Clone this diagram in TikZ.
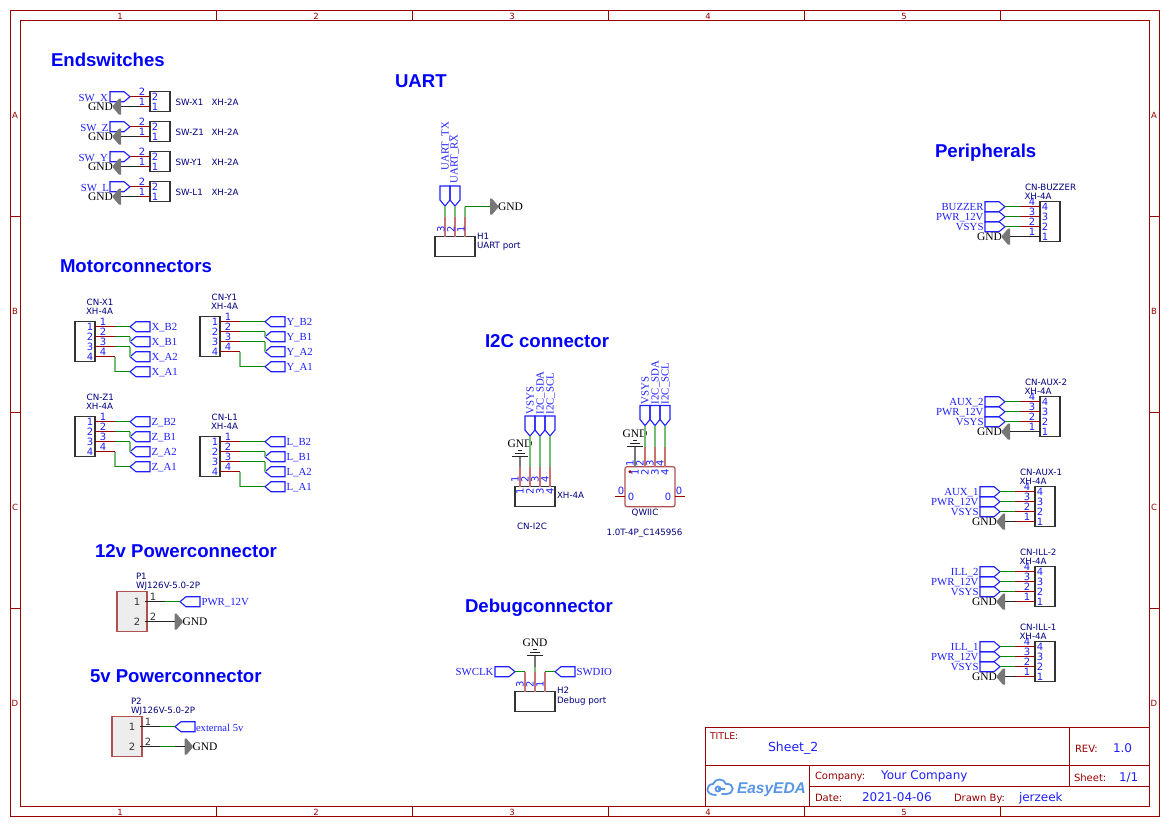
\documentclass[tikz,border=0pt]{standalone}
\usepackage{fontspec}
\newfontfamily\fdv{DejaVu Sans}
\newfontfamily\fls{Liberation Sans}
\newfontfamily\fsr{Liberation Serif}
\definecolor{frm}{HTML}{990000}
\definecolor{frp}{HTML}{B05050}
\definecolor{netb}{HTML}{2020FF}
\definecolor{cmpb}{HTML}{000080}
\definecolor{pinr}{HTML}{990000}
\definecolor{wgr}{HTML}{008800}
\definecolor{bdk}{HTML}{333333}
\definecolor{gnd}{HTML}{777777}
\definecolor{logo}{HTML}{5A96E8}
\newcount\lblc
\tikzset{
 lbl/.style={inner sep=0pt,outer sep=0pt,text height=8pt,text depth=1pt},
 net/.style={lbl,font=\fsr\fontsize{10.8}{12}\selectfont,text=netb},
 gtx/.style={lbl,font=\fsr\fontsize{11.5}{12}\selectfont,text=black},
 cmp/.style={lbl,font=\fdv\fontsize{8.7}{10}\selectfont,text=cmpb},
 pnm/.style={lbl,font=\fdv\fontsize{10}{11}\selectfont,text=netb},
 pnk/.style={lbl,font=\fdv\fontsize{10}{11}\selectfont,text=black!80},
 head/.style={inner sep=0pt,outer sep=0pt,text height=14pt,text depth=1pt,anchor=west,font=\fls\bfseries\fontsize{18.6}{20}\selectfont,text=blue},
 frt/.style={lbl,font=\fdv\fontsize{8.5}{10}\selectfont,text=frm},
 ttl/.style={lbl,anchor=west,font=\fdv\fontsize{10}{12}\selectfont,text=frm},
 ttv/.style={lbl,anchor=west,font=\fdv\fontsize{12}{13}\selectfont,text=netb},
 flag/.style={draw=netb,line width=1.1pt,line join=miter},
 rw/.style={draw=pinr,line width=1pt},
 gw/.style={draw=wgr,line width=1pt},
 vrw/.style={draw=pinr!55,line width=1.8pt},
 vgw/.style={draw=wgr!55,line width=1.8pt},
 vgy/.style={draw=gnd,line width=1.6pt},
 kw/.style={draw=black!85,line width=1pt},
 cbox/.style={draw=bdk,line width=1.2pt,inner sep=0pt,outer sep=0pt,anchor=north west},
 frame/.style={draw=frm,line width=1pt},
}
% text node with automatic name
\newcommand\tx[4][]{\global\advance\lblc by 1 \node[#1] (t\the\lblc) at (#2,#3) {#4};}
% flags: tip at (x,y)
\newcommand\portL[4]{\coordinate (#1) at (#2,#3);
 \draw[flag] (#1) -- ++(6,-5) -- ++(14,0) -- ++(0,10) -- ++(-14,0) -- cycle;
 \tx[net,anchor=west]{#2+21.5}{#3}{#4}}
\newcommand\portR[4]{\coordinate (#1) at (#2,#3);
 \draw[flag] (#1) -- ++(-6,-5) -- ++(-14,0) -- ++(0,10) -- ++(14,0) -- cycle;
 \tx[net,anchor=east]{#2-21.5}{#3}{#4}}
\newcommand\portD[4]{\coordinate (#1) at (#2,#3);
 \draw[flag] (#1) -- ++(-5,-6) -- ++(0,-14) -- ++(10,0) -- ++(0,14) -- cycle;
 \tx[net,anchor=west,rotate=90]{#2}{#3-21.5}{#4}}
% ground symbols, the wire meets (x,y)
\newcommand\gndR[3]{\coordinate (#1) at (#2,#3);
 \fill[gnd] (#2,#3-8) -- (#2+2,#3-8) -- (#2+8,#3-1) -- (#2+8,#3+1) -- (#2+2,#3+8) -- (#2,#3+8) -- cycle;
 \tx[gtx,anchor=west]{#2+8}{#3+0.5}{GND}}
\newcommand\gndL[3]{\coordinate (#1) at (#2,#3);
 \fill[gnd] (#2,#3-8) -- (#2-2,#3-8) -- (#2-8,#3-1) -- (#2-8,#3+1) -- (#2-2,#3+8) -- (#2,#3+8) -- cycle;
 \tx[gtx,anchor=east]{#2-8}{#3+0.5}{GND}}
\newcommand\gndU[3]{\coordinate (#1) at (#2,#3);
 \draw[black!85,line width=.9pt] (#2-8,#3) -- (#2+8,#3) (#2-5,#3-3) -- (#2+5,#3-3) (#2-2,#3-6) -- (#2+2,#3-6);
 \tx[gtx,anchor=center]{#2}{#3-13}{GND}}
% end switch connector: name, box top, net, comp label
\newcommand\esw[5]{%
 \node[cbox,minimum width=20pt,minimum height=20pt] (#1) at (150,#2) {};
 \coordinate (#1a) at (150,#2+5); \coordinate (#1b) at (150,#2+15);
 \coordinate (#1c) at (140,#2+15);
 \coordinate (#1f) at (130,#2+5);
 \draw[flag] (#1f) -- ++(-6,-5) -- ++(-14,0) -- ++(0,10) -- ++(14,0) -- cycle;
 \tx[net,anchor=east]{#5}{#2+6.5}{#3}
 \gndL{#1g}{121}{#2+15}
 \draw[rw] (#1a) -- (#1f);
 \draw[rw] (#1b) -- (#1c);
 \draw[kw] (#1c) -- (#1g);
 \tx[pnm]{142}{#2}{2} \tx[pnm]{142}{#2+10}{1}
 \tx[pnm]{155}{#2+5.5}{2} \tx[pnm]{155}{#2+15.5}{1}
 \tx[cmp,anchor=west]{175.5}{#2+10}{#4} \tx[cmp,anchor=west]{211.5}{#2+10}{XH-2A}}
% motor connector
\newcommand\motor[8]{% id boxx boxy xmid xtip prefix name namey
 \node[cbox,minimum width=20pt,minimum height=40pt] (#1) at (#2,#3) {};
 \tx[cmp,anchor=west]{#2+11.7}{#8}{#7} \tx[cmp,anchor=west]{#2+11}{#8+9.3}{XH-4A}
 \portL{#1f1}{#5}{#3+5}{#6\_B2}
 \portL{#1f2}{#5}{#3+20}{#6\_B1}
 \portL{#1f3}{#5}{#3+35}{#6\_A2}
 \portL{#1f4}{#5}{#3+50}{#6\_A1}
 \coordinate (#1p1) at (#2+20,#3+5); \coordinate (#1m1) at (#4,#3+5);
 \coordinate (#1p2) at (#2+20,#3+15); \coordinate (#1m2) at (#4,#3+15); \coordinate (#1c2) at (#5,#3+15);
 \coordinate (#1p3) at (#2+20,#3+25); \coordinate (#1m3) at (#4,#3+25); \coordinate (#1c3) at (#5,#3+25);
 \coordinate (#1p4) at (#2+20,#3+35); \coordinate (#1m4) at (#4,#3+35); \coordinate (#1c4) at (#4,#3+50);
 \draw[rw] (#1p1) -- (#1m1); \draw[rw] (#1p2) -- (#1m2); \draw[rw] (#1p3) -- (#1m3); \draw[rw] (#1p4) -- (#1m4);
 \draw[gw] (#1m1) -- (#1f1);
 \draw[gw] (#1m2) -- (#1c2); \draw[vgw] (#1c2) -- (#1f2);
 \draw[gw] (#1m3) -- (#1c3); \draw[vgw] (#1c3) -- (#1f3);
 \draw[vgw] (#1m4) -- (#1c4); \draw[gw] (#1c4) -- (#1f4);
 \tx[pnm]{#2+15}{#3+5.5}{1} \tx[pnm]{#2+15}{#3+15.5}{2} \tx[pnm]{#2+15}{#3+25.5}{3} \tx[pnm]{#2+15}{#3+35.5}{4}
 \tx[pnm]{#2+28}{#3}{1} \tx[pnm]{#2+28}{#3+10}{2} \tx[pnm]{#2+28}{#3+20}{3} \tx[pnm]{#2+28}{#3+30}{4}}
% peripheral connector: id boxx boxy net name namey lastwire-colour
\newcommand\periph[7]{%
 \node[cbox,minimum width=20pt,minimum height=40pt] (#1) at (#2,#3) {};
 \tx[cmp,anchor=west]{#2-15}{#6}{#5} \tx[cmp,anchor=west]{#2-15.5}{#6+9}{XH-4A}
 \portR{#1f1}{#2-35}{#3+5}{#4}
 \portR{#1f2}{#2-35}{#3+15}{PWR\_12V}
 \portR{#1f3}{#2-35}{#3+25}{VSYS}
 \gndL{#1g}{#2-30}{#3+35}
 \coordinate (#1p1) at (#2,#3+5); \coordinate (#1m1) at (#2-20,#3+5);
 \coordinate (#1p2) at (#2,#3+15); \coordinate (#1m2) at (#2-20,#3+15);
 \coordinate (#1p3) at (#2,#3+25); \coordinate (#1m3) at (#2-20,#3+25);
 \coordinate (#1p4) at (#2,#3+35); \coordinate (#1m4) at (#2-20,#3+35);
 \draw[rw] (#1p1) -- (#1m1); \draw[rw] (#1p2) -- (#1m2); \draw[rw] (#1p3) -- (#1m3); \draw[#7] (#1p4) -- (#1m4);
 \draw[gw] (#1m1) -- (#1f1); \draw[gw] (#1m2) -- (#1f2); \draw[gw] (#1m3) -- (#1f3); \draw[kw] (#1m4) -- (#1g);
 \tx[pnm]{#2+5}{#3+5.5}{4} \tx[pnm]{#2+5}{#3+15.5}{3} \tx[pnm]{#2+5}{#3+25.5}{2} \tx[pnm]{#2+5}{#3+35.5}{1}
 \tx[pnm]{#2-8}{#3+0.5}{4} \tx[pnm]{#2-8}{#3+10.5}{3} \tx[pnm]{#2-8}{#3+20.5}{2} \tx[pnm]{#2-8}{#3+30.5}{1}}
\newcommand\rnum[3]{\tx[pnm,rotate=90]{#1}{#2}{#3}}
\begin{document}
\begin{tikzpicture}[x=1pt,y=-1pt]
\useasboundingbox (0,0) rectangle (1169,827);
\fill[white] (0,0) rectangle (1169,827);
% sheet frame
\draw[frame] (10,10.5) rectangle (1159,816.5);
\draw[frame] (20,20.5) rectangle (1149,806.5);
\foreach \x in {216,412,608,804,1000} {\draw[frame] (\x,10.5) -- (\x,20.5); \draw[frame] (\x,806.5) -- (\x,816.5);}
\foreach \y in {216,412,608} {\draw[frame] (10,\y) -- (20,\y); \draw[frame] (1149,\y) -- (1159,\y);}
\foreach \n/\x in {1/120,2/316,3/512,4/708,5/904} {\node[frt] (tn\n) at (\x,15.5) {\n}; \node[frt] (bn\n) at (\x,811.5) {\n};}
\foreach \n/\y in {A/115,B/311,C/507,D/703} {\node[frt] (ll\n) at (15,\y) {\n}; \node[frt] (rl\n) at (1154,\y) {\n};}
% title block
\draw[frame] (705,727.5) rectangle (1149,806.5);
\draw[frame] (705,765.5) -- (1149,765.5);
\draw[frame] (809,786.5) -- (1149,786.5);
\draw[frame] (809,765.5) -- (809,806.5);
\draw[frame] (1069,727.5) -- (1069,786.5);
\tx[ttl,font=\fdv\fontsize{9.3}{11}\selectfont]{710}{735.5}{TITLE:}
\tx[ttv,font=\fdv\fontsize{12.5}{14}\selectfont]{768}{747.5}{Sheet\_2}
\tx[ttl]{1075}{749}{REV:}
\tx[ttv]{1113}{748.5}{1.0}
\tx[ttl]{815}{776}{Company:}
\tx[ttv]{881}{776}{Your Company}
\tx[ttl]{1074}{778}{Sheet:}
\tx[ttv]{1119}{778}{1/1}
\tx[ttl]{815}{798}{Date:}
\tx[ttv]{862}{798}{2021-04-06}
\tx[ttl]{954}{798}{Drawn By:}
\tx[ttv]{1019}{798}{jerzeek}
% logo
\draw[logo,line width=1.8pt,line cap=round] (716,795) .. controls (704,795) and (706,784) .. (713,784) .. controls (715,778) and (724,778) .. (726,784) .. controls (735,783) and (735,794) .. (726,794) -- (722,794);
\draw[logo,line width=1.8pt] (718,789) -- (725,789) (718,789) circle (2.5);
\tx[lbl,anchor=west,font=\fls\bfseries\itshape\fontsize{15.5}{17}\selectfont,text=logo]{737}{790}{EasyEDA}
% headings
\tx[head]{51}{60}{Endswitches}
\tx[head]{395}{80.5}{UART}
\tx[head]{935}{150.5}{Peripherals}
\tx[head]{60}{265.5}{Motorconnectors}
\tx[head]{485}{340.5}{I2C connector}
\tx[head]{95}{550.5}{12v Powerconnector}
\tx[head]{465}{605.5}{Debugconnector}
\tx[head]{90}{675.5}{5v Powerconnector}
% end switches
\esw{es1}{91.7}{SW\_X}{SW-X1}{108}
\esw{es2}{121.7}{SW\_Z}{SW-Z1}{108.5}
\esw{es3}{151.7}{SW\_Y}{SW-Y1}{108}
\esw{es4}{181.7}{SW\_L}{SW-L1}{109}
% motors
\motor{mx}{75}{321.7}{115}{130}{X}{CN-X1}{301.7}
\motor{my}{200}{316.7}{240}{265}{Y}{CN-Y1}{296.7}
\motor{mz}{75}{416.7}{115}{130}{Z}{CN-Z1}{396.7}
\motor{ml}{200}{436.7}{240}{265}{L}{CN-L1}{417}
% UART
\node[cbox,minimum width=40pt,minimum height=20pt] (h1) at (435,236.7) {};
\coordinate (utx) at (445,206);
\draw[flag] (utx) -- ++(-5,-6) -- ++(0,-14) -- ++(10,0) -- ++(0,14) -- cycle;
\coordinate (urx) at (455,206);
\draw[flag] (urx) -- ++(-5,-6) -- ++(0,-14) -- ++(10,0) -- ++(0,14) -- cycle;
\tx[net,anchor=west,rotate=90]{445}{170.5}{UART\_TX}
\tx[net,anchor=west,rotate=90]{454}{183.5}{UART\_RX}
\gndR{ug}{490}{206.7}
\coordinate (up3) at (445,236.7); \coordinate (um3) at (445,216.7);
\coordinate (up2) at (455,236.7); \coordinate (um2) at (455,216.7);
\coordinate (up1) at (465,236.7); \coordinate (um1) at (465,216.7); \coordinate (uc1) at (465,206.7);
\draw[vrw] (up3) -- (um3); \draw[vrw] (up2) -- (um2); \draw[vrw] (up1) -- (um1);
\draw[vgw] (um3) -- (utx); \draw[vgw] (um2) -- (urx); \draw[vgw] (um1) -- (uc1); \draw[gw] (uc1) -- (ug);
\rnum{441}{229}{3} \rnum{451}{229}{2} \rnum{461}{229}{1}
\tx[cmp,anchor=west]{477}{236}{H1}
\tx[cmp,anchor=west]{477}{245}{UART port}
% I2C header
\node[cbox,minimum width=40pt,minimum height=20pt] (i2c) at (515,486.7) {};
\foreach \n/\xx in {1/520,2/530,3/540,4/550} {\coordinate (ip\n) at (\xx,486.7); \coordinate (im\n) at (\xx,466.7); \draw[vrw] (ip\n) -- (im\n);}
\portD{if2}{530}{436}{VSYS}
\portD{if3}{540}{436}{I2C\_SDA}
\portD{if4}{550}{436}{I2C\_SCL}
\gndU{ig}{520}{456.7}
\draw[vgy] (im1) -- (ig);
\draw[vgw] (im2) -- (if2); \draw[vgw] (im3) -- (if3); \draw[vgw] (im4) -- (if4);
\rnum{515}{479}{1} \rnum{525}{479}{2} \rnum{535}{479}{3} \rnum{545}{479}{4}
\rnum{520}{491.5}{1} \rnum{530}{491.5}{2} \rnum{540}{491.5}{3} \rnum{550}{491.5}{4}
\tx[cmp,anchor=west]{557}{495}{XH-4A}
\tx[cmp,anchor=center]{532}{526}{CN-I2C}
% QWIIC
\node[cbox,draw=frp,rounded corners=2pt,minimum width=50pt,minimum height=40pt] (qw) at (625,466.7) {};
\foreach \n/\xx in {2/645,3/655,4/665} {\coordinate (qp\n) at (\xx,466.7); \coordinate (qm\n) at (\xx,446.7); \draw[vrw] (qp\n) -- (qm\n);}
\coordinate (qp1) at (635,466.7);
\portD{qf2}{645}{425.5}{VSYS}
\portD{qf3}{655}{425.5}{I2C\_SDA}
\portD{qf4}{665}{425.5}{I2C\_SCL}
\gndU{qg}{635}{446.7}
\draw[vgy] (qp1) -- (qg);
\draw[vgw] (qm2) -- (qf2); \draw[vgw] (qm3) -- (qf3); \draw[vgw] (qm4) -- (qf4);
\fill[frm] (630,471.7) circle (1.6);
\rnum{630}{463}{1} \rnum{640}{463}{2} \rnum{650}{463}{3} \rnum{660}{463}{4}
\rnum{635}{472}{1} \rnum{645}{472}{2} \rnum{655}{472}{3} \rnum{665}{472}{4}
\coordinate (ql) at (625,496.7); \coordinate (qle) at (615,496.7);
\coordinate (qr) at (675,496.7); \coordinate (qre) at (685,496.7);
\draw[rw] (ql) -- (qle); \draw[rw] (qr) -- (qre);
\tx[pnm]{621}{491}{0} \tx[pnm]{631}{497}{0} \tx[pnm]{668}{497}{0} \tx[pnm]{679}{491}{0}
\tx[cmp,anchor=center]{645}{512}{QWIIC}
\tx[cmp,anchor=center]{644.5}{532}{1.0T-4P\_C145956}
% peripherals
\periph{pb}{1040}{201.7}{BUZZER}{CN-BUZZER}{186.5}{kw}
\periph{pa2}{1040}{396.7}{AUX\_2}{CN-AUX-2}{381.5}{kw}
\periph{pa1}{1035}{486.7}{AUX\_1}{CN-AUX-1}{471.5}{rw}
\periph{pi2}{1035}{566.7}{ILL\_2}{CN-ILL-2}{551.5}{rw}
\periph{pi1}{1035}{641.7}{ILL\_1}{CN-ILL-1}{626.5}{rw}
% P1
\node[cbox,draw=frp,fill=black!7,minimum width=30pt,minimum height=40pt] (p1) at (117,591.7) {};
\coordinate (p1a) at (145,601.7); \coordinate (p1m) at (165,601.7);
\coordinate (p1b) at (145,621.7);
\portL{p1f}{180}{601.7}{PWR\_12V}
\gndR{p1g}{174.5}{621.7}
\draw[kw] (p1a) -- (p1m); \draw[gw] (p1m) -- (p1f); \draw[kw] (p1b) -- (p1g);
\tx[pnk]{137}{602}{1} \tx[pnk]{137}{622}{2} \tx[pnk]{153}{597}{1} \tx[pnk]{153}{617}{2}
\tx[cmp,anchor=west]{136}{576}{P1} \tx[cmp,anchor=west]{136}{585}{WJ126V-5.0-2P}
% P2
\node[cbox,draw=frp,fill=black!7,minimum width=30pt,minimum height=40pt] (p2) at (112,716.7) {};
\coordinate (p2a) at (140,726.7); \coordinate (p2m) at (160,726.7);
\coordinate (p2b) at (140,746.7); \coordinate (p2n) at (160,746.7); \coordinate (p2o) at (175,746.7);
\coordinate (p2f) at (175,726.7);
\draw[flag] (p2f) -- ++(6,-5) -- ++(14,0) -- ++(0,10) -- ++(-14,0) -- cycle;
\tx[net,anchor=west,font=\fsr\fontsize{10.6}{12}\selectfont]{196}{727.5}{external 5v}
\gndR{p2g}{184.5}{746.7}
\draw[kw] (p2a) -- (p2m); \draw[gw] (p2m) -- (p2f); \draw[kw] (p2b) -- (p2n); \draw[gw] (p2n) -- (p2o); \draw[kw] (p2o) -- (p2g);
\tx[pnk]{132}{727}{1} \tx[pnk]{132}{747}{2} \tx[pnk]{148}{722}{1} \tx[pnk]{148}{742}{2}
\tx[cmp,anchor=west]{131}{701}{P2} \tx[cmp,anchor=west]{131}{710}{WJ126V-5.0-2P}
% H2 debug
\node[cbox,minimum width=40pt,minimum height=20pt] (h2) at (515,691.7) {};
\coordinate (dp3) at (525,691.7); \coordinate (dc3) at (525,671.7);
\coordinate (dp2) at (535,691.7); \coordinate (dm2) at (535,671.7); \coordinate (dn2) at (535,667);
\coordinate (dp1) at (545,691.7); \coordinate (dc1) at (545,671.7);
\portR{dfl}{515}{671.7}{SWCLK}
\portL{dfr}{555}{671.7}{SWDIO}
\gndU{dg}{535}{655.5}
\draw[vrw] (dp3) -- (dc3); \draw[gw] (dc3) -- (dfl);
\draw[vrw] (dp1) -- (dc1); \draw[gw] (dc1) -- (dfr);
\draw[vrw] (dp2) -- (dm2); \draw[vgw] (dm2) -- (dn2); \draw[vgy] (dn2) -- (dg);
\rnum{520}{684}{3} \rnum{530}{684}{2} \rnum{540}{684}{1}
\tx[cmp,anchor=west]{557}{690}{H2}
\tx[cmp,anchor=west]{557}{700}{Debug port}
\end{tikzpicture}
\end{document}
